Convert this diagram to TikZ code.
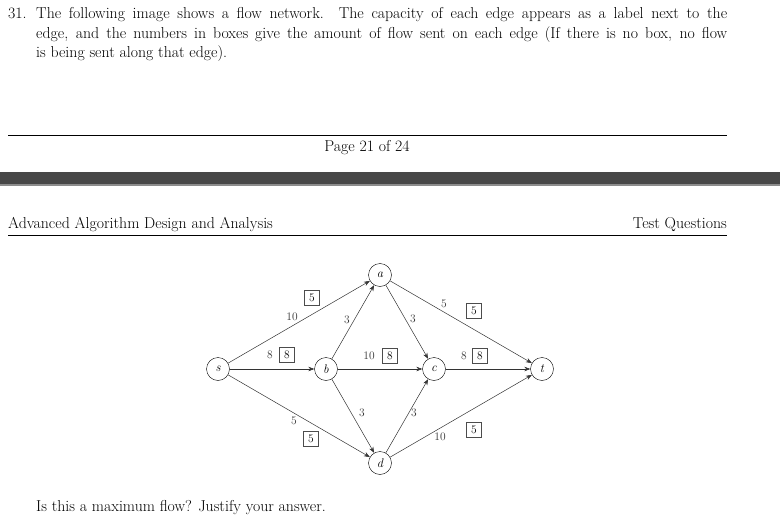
\documentclass[tikz,border=0pt]{standalone}
\usetikzlibrary{arrows.meta}
\begin{document}
\begin{tikzpicture}[x=1pt,y=-1pt,
  vert/.style={draw,circle,minimum size=23pt,inner sep=0pt,font=\fontsize{12.5}{12.5}\selectfont\itshape},
  edge/.style={draw=black!80,line width=0.5pt,-{Stealth[length=6pt,width=4.5pt]}},
  capl/.style={font=\fontsize{11.5}{11.5}\selectfont,text=black!80,inner sep=0pt},
  flow/.style={draw=black!70,font=\fontsize{11.5}{11.5}\selectfont,minimum size=15pt,inner sep=1pt},
  body/.style={font=\fontsize{15.8}{19}\selectfont,inner sep=0pt,anchor=base west}]
\useasboundingbox (0,0) rectangle (780,522);
% text
\node[body] (n31) at (8,19) {31.};
\node[body] (l1) at (36,19) {\makebox[691pt][s]{The following image shows a flow network. The capacity of each edge appears as a label next to the}};
\node[body] (l2) at (36,38) {\makebox[691pt][s]{edge, and the numbers in boxes give the amount of flow sent on each edge (If there is no box, no flow}};
\node[body] (l3) at (36,57) {is being sent along that edge).};
\draw[line width=0.6pt] (8,135) -- (727,135);
\node[body,anchor=base] (pg) at (367,151) {Page 21 of 24};
\fill[black!72] (0,172) rectangle (780,186);
\fill[black!45] (0,184) rectangle (780,186);
\node[body] (hd) at (8,228) {Advanced Algorithm Design and Analysis};
\node[body,anchor=base east] (tq) at (727,228) {Test Questions};
\draw[line width=0.6pt] (8,235) -- (727,235);
\node[body] (q) at (36,511) {Is this a maximum flow? Justify your answer.};
% graph
\node[vert] (s) at (218,369) {s};
\node[vert] (b) at (326,369) {b};
\node[vert] (a) at (380,275) {a};
\node[vert] (c) at (434,369) {c};
\node[vert] (d) at (380,463) {d};
\node[vert] (t) at (542,369) {t};
\draw[edge] (s) -- (a);
\draw[edge] (s) -- (b);
\draw[edge] (s) -- (d);
\draw[edge] (b) -- (a);
\draw[edge] (b) -- (c);
\draw[edge] (b) -- (d);
\draw[edge] (a) -- (c);
\draw[edge] (d) -- (c);
\draw[edge] (a) -- (t);
\draw[edge] (c) -- (t);
\draw[edge] (d) -- (t);
\node[capl] (k1) at (292,317) {10};
\node[flow] (f1) at (312,298) {5};
\node[capl] (k2) at (270,355) {8};
\node[flow] (f2) at (287,355) {8};
\node[capl] (k3) at (294,421) {5};
\node[flow] (f3) at (311,439) {5};
\node[capl] (k4) at (347,320) {3};
\node[capl] (k5) at (369,356) {10};
\node[flow] (f5) at (390,356) {8};
\node[capl] (k6) at (362,413) {3};
\node[capl] (k7) at (413,319) {3};
\node[capl] (k8) at (414,413) {3};
\node[capl] (k9) at (444,304) {5};
\node[flow] (f9) at (474,311) {5};
\node[capl] (k10) at (464,356) {8};
\node[flow] (f10) at (480,356) {8};
\node[capl] (k11) at (440,437) {10};
\node[flow] (f11) at (474,430) {5};
\end{tikzpicture}
\end{document}
